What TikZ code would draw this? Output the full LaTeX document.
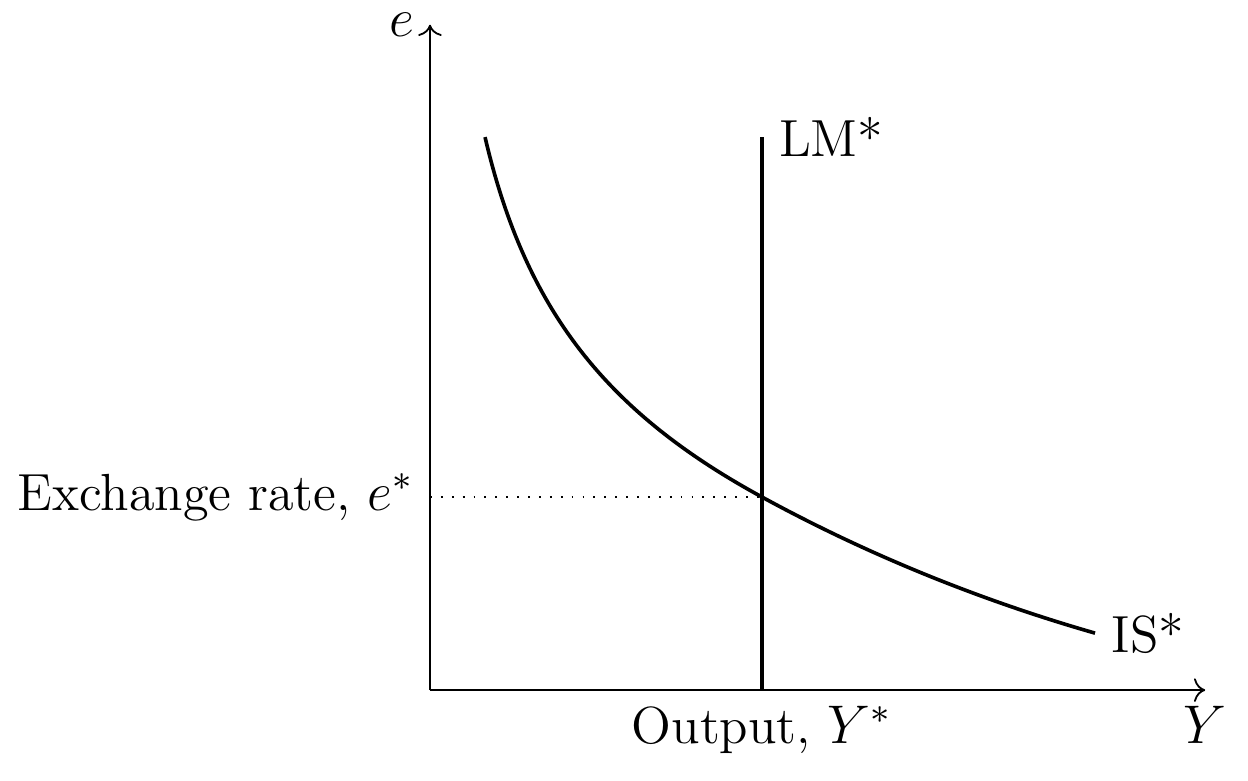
\documentclass[tikz,border=0pt]{standalone}
\usepackage{amsmath,amssymb}
\usetikzlibrary{arrows.meta,positioning,calc,intersections}

\begin{document}
\begin{tikzpicture}[font=\fontsize{11.5pt}{14pt}\selectfont]
\useasboundingbox (-3.328,-0.697) rectangle (6.331,5.341);
\coordinate (O) at (0,0);
\coordinate (xend) at (6,0);
\coordinate (yend) at (0,5.15);
\draw[->] (O) -- (xend) node[below] (Ylab) {$Y$};
\draw[->] (O) -- (yend) node[left] (elab) {$e$};
% LM* and IS* curves
\coordinate (LMfoot) at (2.57,0);
\coordinate (LMtop) at (2.57,4.28);
\draw[thick,name path=LM] (LMfoot) -- (LMtop) node[right] (LMlab) {LM*};
\draw[thick,name path=IS] (0.426,4.28) .. controls (0.742,2.923) and (1.38,2.142) .. (2.57,1.494)
  .. controls (3.385,1.049) and (4.255,0.697) .. (5.147,0.441)
  node[right] (ISlab) {IS*};
\path[name intersections={of=LM and IS,by=E}];
\coordinate (eaxis) at (O |- E);
\draw[dotted] (eaxis) -- (E);
\node[left] (erate) at (eaxis) {Exchange rate, $e^*$};
\node[below] (output) at (LMfoot) {Output, $Y^*$};
\end{tikzpicture}
\end{document}
